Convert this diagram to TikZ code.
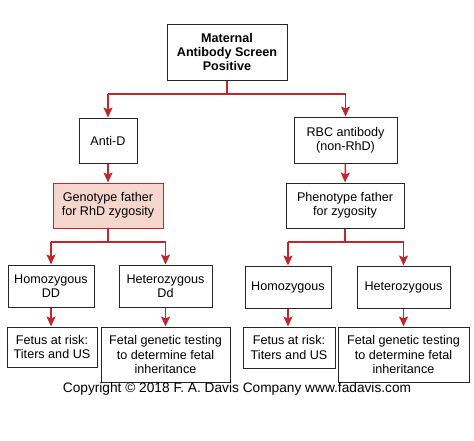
\documentclass[tikz,border=0pt]{standalone}
\usepackage{fontspec}
\setmainfont{Liberation Sans}
\usetikzlibrary{arrows.meta}
\definecolor{flowred}{HTML}{C0272D}
\definecolor{pinkfill}{HTML}{F4D6CC}
\begin{document}
\begin{tikzpicture}[x=1pt,y=-1pt,
  box/.style={draw=black!85, line width=1pt, align=center, inner sep=0pt,
    font=\fontsize{12.6}{14.4}\selectfont, fill=white},
  rl/.style={draw=flowred, line width=1.5pt},
  ra/.style={rl, -{Stealth[length=10pt,width=9pt,inset=2pt]}}]
\useasboundingbox (0,0) rectangle (474,440);
\fill[white] (0,0) rectangle (474,440);
% boxes
\node[box, font=\bfseries\fontsize{12.6}{14.2}\selectfont, minimum width=120, minimum height=56] (top) at (227,52) {Maternal\\Antibody Screen\\Positive};
\node[box, minimum width=58, minimum height=45] (antid) at (108,140.5) {Anti-D};
\node[box, minimum width=103, minimum height=46] (rbc) at (345.5,140) {RBC antibody\\(non-RhD)};
\node[box, draw=flowred, fill=pinkfill, minimum width=110, minimum height=45] (geno) at (108,205.5) {Genotype father\\for RhD zygosity};
\node[box, minimum width=118, minimum height=45] (pheno) at (345,205.5) {Phenotype father\\for zygosity};
\node[box, minimum width=86, minimum height=42] (homL) at (51,286) {Homozygous\\DD};
\node[box, minimum width=93, minimum height=42] (hetL) at (165.5,286) {Heterozygous\\Dd};
\node[box, minimum width=86, minimum height=42] (homR) at (288,287) {Homozygous};
\node[box, minimum width=93, minimum height=42] (hetR) at (403.5,287) {Heterozygous};
\node[box, minimum width=90, minimum height=40] (fetL) at (52,347) {Fetus at risk:\\Titers and US};
\node[box, minimum width=129, minimum height=55] (genL) at (165.5,354.5) {Fetal genetic testing\\to determine fetal\\inheritance};
\node[box, minimum width=92, minimum height=41] (fetR) at (289,347.5) {Fetus at risk:\\Titers and US};
\node[box, minimum width=131, minimum height=55] (genR) at (403.5,354.5) {Fetal genetic testing\\to determine fetal\\inheritance};
\node[font=\fontsize{13.7}{15}\selectfont, anchor=center] (copy) at (237,389) {Copyright © 2018 F. A. Davis Company www.fadavis.com};
% junction coordinates
\coordinate (jm) at (227,94);
\coordinate (jl) at (108,242);
\coordinate (jr) at (345,242);
% connectors
\draw[rl] (top.south) -- (jm);
\draw[rl] (antid.north |- jm) -- (rbc.north |- jm);
\draw[ra] (antid.north |- jm) -- (antid.north);
\draw[ra] (rbc.north |- jm) -- (rbc.north);
\draw[ra] (antid.south) -- (geno.north);
\draw[ra] (rbc.south) -- (pheno.north);
\draw[rl] (geno.south) -- (jl);
\draw[rl] (homL.north |- jl) -- (hetL.north |- jl);
\draw[ra] (homL.north |- jl) -- (homL.north);
\draw[ra] (hetL.north |- jl) -- (hetL.north);
\draw[rl] (pheno.south) -- (jr);
\draw[rl] (homR.north |- jr) -- (hetR.north |- jr);
\draw[ra] (homR.north |- jr) -- (homR.north);
\draw[ra] (hetR.north |- jr) -- (hetR.north);
\draw[ra] (homL.south) -- (homL.south |- fetL.north);
\draw[ra] (hetL.south) -- (genL.north);
\draw[ra] (homR.south) -- (homR.south |- fetR.north);
\draw[ra] (hetR.south) -- (genR.north);
\end{tikzpicture}
\end{document}
